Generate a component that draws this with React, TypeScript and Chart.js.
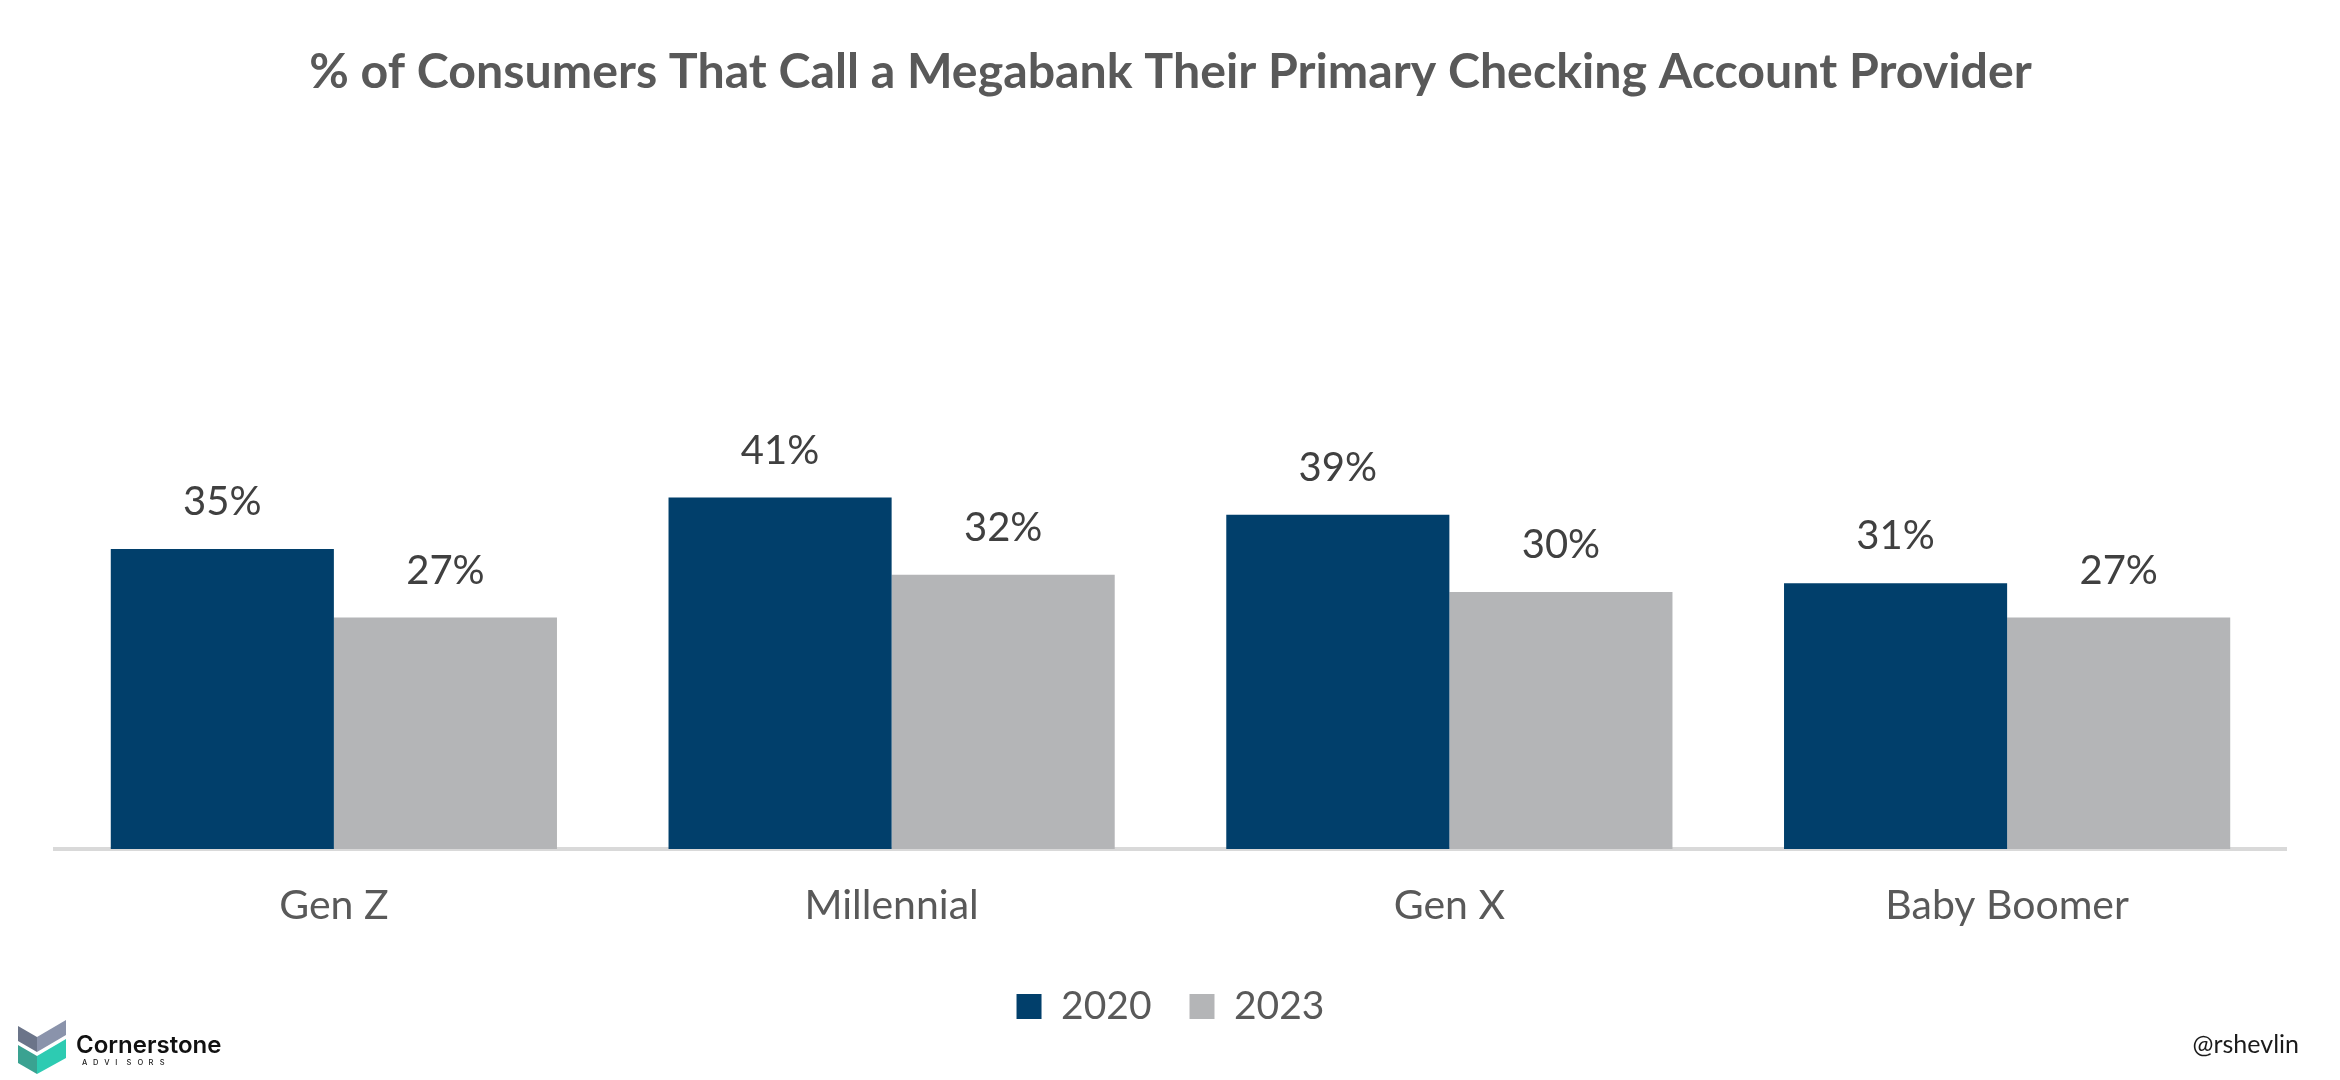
import React, { useEffect, useRef } from "react";
import { Chart, registerables } from "chart.js";

Chart.register(...registerables);

// Share of consumers (%) naming a megabank as their primary checking provider
const categories = ["Gen Z", "Millennial", "Gen X", "Baby Boomer"];
const seriesNames = ["2020", "2023"];
const values2020 = [35, 41, 39, 31];
const values2023 = [27, 32, 30, 27];
const seriesColors = ["#013F6B", "#B4B5B7"];

const titleText =
  "% of Consumers That Call a Megabank Their Primary Checking Account Provider";
const handleText = "@rshevlin";
const brandName = "Cornerstone";
const brandSub = "ADVISORS";

const W = 2340;
const H = 1080;
const FONT = "Lato, 'Noto Sans', sans-serif";

// Percentage labels above each bar
const valueLabels = {
  id: "valueLabels",
  afterDatasetsDraw(chart: any) {
    const { ctx } = chart;
    ctx.save();
    ctx.font = `40px ${FONT}`;
    ctx.fillStyle = "#404040";
    ctx.textAlign = "center";
    ctx.textBaseline = "alphabetic";
    chart.data.datasets.forEach((ds: any, i: number) => {
      const meta = chart.getDatasetMeta(i);
      meta.data.forEach((bar: any, j: number) => {
        ctx.fillText(`${ds.data[j]}%`, bar.x, bar.y - 34);
      });
    });
    ctx.restore();
  },
};

// Brand mark (bottom left) and author handle (bottom right)
const footerMarks = {
  id: "footerMarks",
  afterDraw(chart: any) {
    const { ctx } = chart;
    ctx.save();
    const poly = (pts: number[][], color: string) => {
      ctx.beginPath();
      ctx.moveTo(pts[0][0], pts[0][1]);
      for (let k = 1; k < pts.length; k++) ctx.lineTo(pts[k][0], pts[k][1]);
      ctx.closePath();
      ctx.fillStyle = color;
      ctx.fill();
    };
    // upper chevron
    poly([[18, 1026], [37, 1037], [37, 1052], [18, 1041]], "#6B7489");
    poly([[37, 1037], [66, 1020], [66, 1035], [37, 1052]], "#8A93AB");
    // lower block
    poly([[18, 1045], [37, 1056], [37, 1074], [18, 1063]], "#3AA291");
    poly([[37, 1056], [66, 1039], [66, 1058], [37, 1074]], "#2DCBB2");

    ctx.fillStyle = "#111111";
    ctx.textAlign = "left";
    ctx.textBaseline = "alphabetic";
    ctx.font = `600 24px Inter, ${FONT}`;
    ctx.fillText(brandName, 76, 1053);

    ctx.font = `500 7.5px Inter, ${FONT}`;
    ctx.fillStyle = "#222222";
    const chars = brandSub.split("");
    chars.forEach((c, k) => ctx.fillText(c, 82 + k * 11.1, 1065));

    ctx.font = `25px ${FONT}`;
    ctx.fillStyle = "#1A1A1A";
    ctx.textAlign = "right";
    ctx.fillText(handleText, 2299, 1053);
    ctx.restore();
  },
};

export default function App() {
  const ref = useRef<HTMLCanvasElement>(null);

  useEffect(() => {
    document.body.style.margin = "0";
    const canvas = ref.current;
    if (!canvas) return;
    const chart = new Chart(canvas, {
      type: "bar",
      data: {
        labels: categories,
        datasets: [
          {
            label: seriesNames[0],
            data: values2020,
            backgroundColor: seriesColors[0],
            borderWidth: 0,
            categoryPercentage: 0.8,
            barPercentage: 1.0,
          },
          {
            label: seriesNames[1],
            data: values2023,
            backgroundColor: seriesColors[1],
            borderWidth: 0,
            categoryPercentage: 0.8,
            barPercentage: 1.0,
          },
        ],
      },
      options: {
        responsive: false,
        animation: false,
        devicePixelRatio: 1,
        layout: { padding: { top: 0, left: 55, right: 54, bottom: 44 } },
        scales: {
          x: {
            grid: { display: false, drawTicks: false },
            border: { display: true, color: "#D9D9D9", width: 4 },
            ticks: {
              color: "#595959",
              font: { family: FONT, size: 41 },
              padding: 32.4,
            },
            afterFit: (scale: any) => {
              scale.height = 100;
            },
          },
          y: { display: false, min: 0, max: 50 },
        },
        plugins: {
          title: {
            display: true,
            text: titleText,
            color: "#595959",
            font: { family: FONT, size: 48.3, weight: "bold" },
            padding: { top: 43, bottom: 319.5 },
          },
          legend: {
            position: "bottom",
            labels: {
              boxWidth: 25,
              boxHeight: 25,
              padding: 38,
              color: "#595959",
              font: { family: FONT, size: 39 },
            },
          },
          tooltip: { enabled: false },
        },
      },
      plugins: [valueLabels, footerMarks],
    } as any);
    return () => chart.destroy();
  }, []);

  return (
    <div style={{ position: "absolute", left: 0, top: 0, width: W, height: H, background: "#ffffff" }}>
      <canvas ref={ref} width={W} height={H} style={{ display: "block", width: W, height: H }} />
    </div>
  );
}
